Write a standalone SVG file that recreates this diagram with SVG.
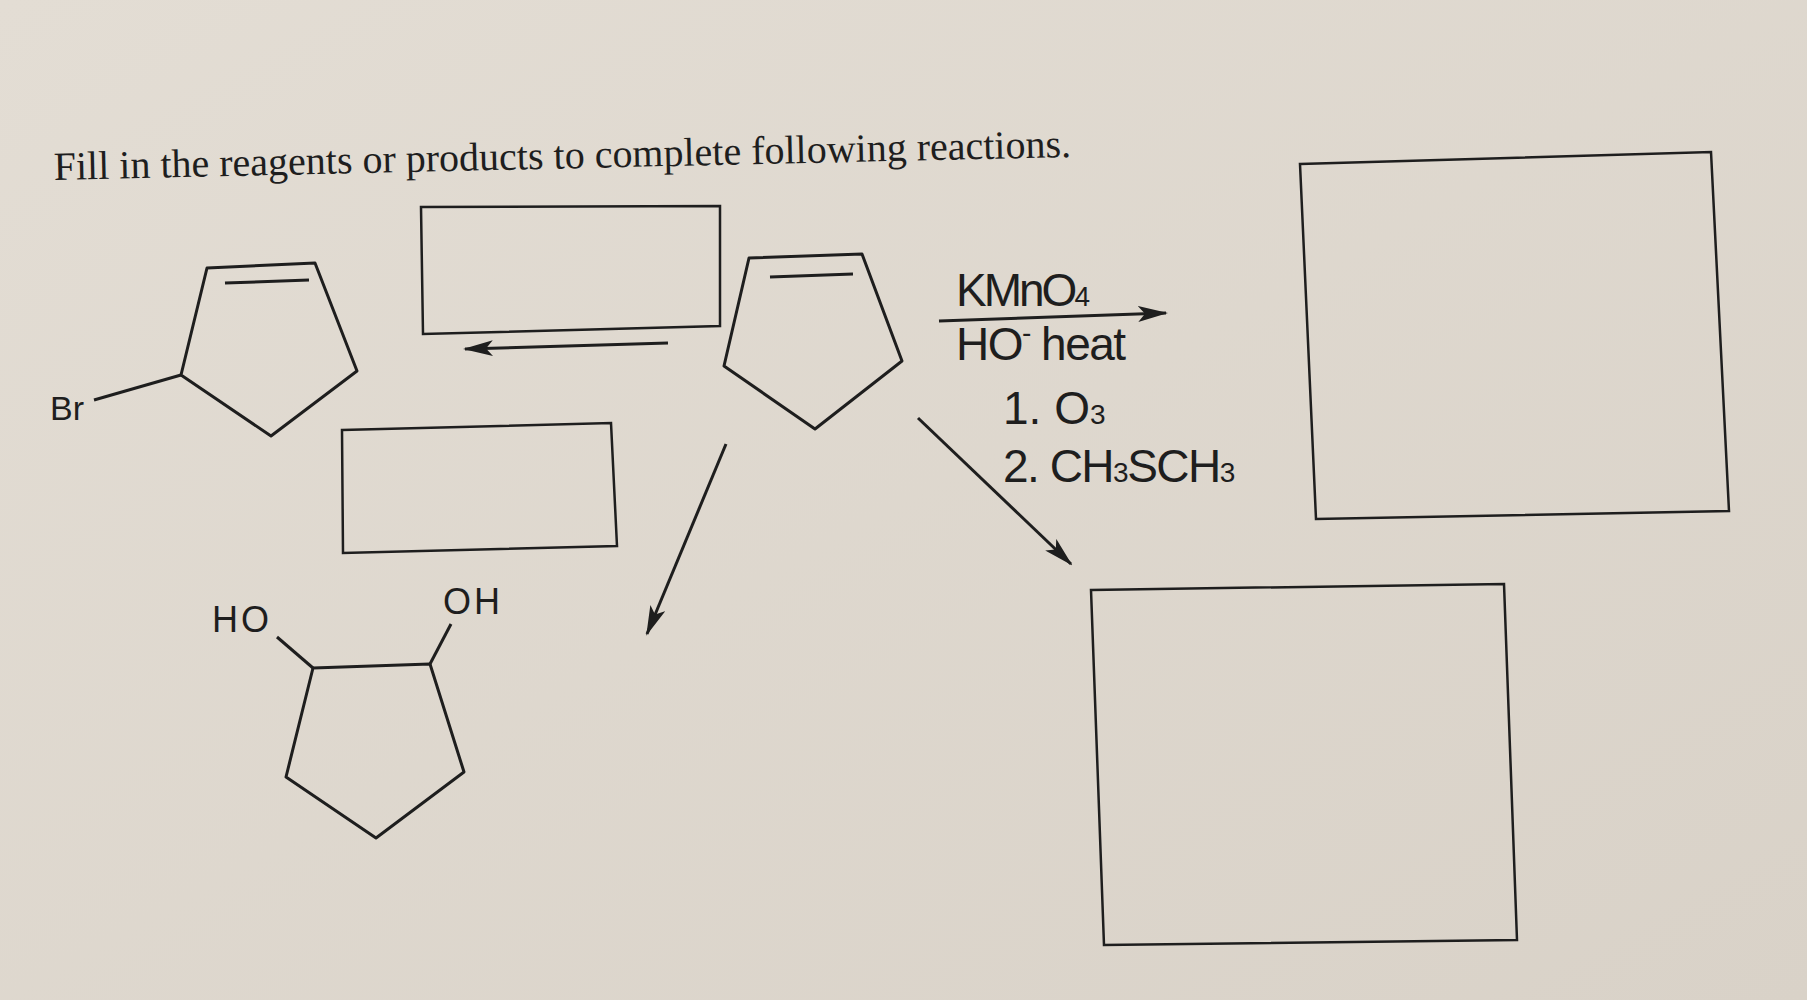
<svg xmlns="http://www.w3.org/2000/svg" width="1807" height="1000" viewBox="0 0 1807 1000">
<defs>
<linearGradient id="bg" x1="0" y1="0" x2="1" y2="1"><stop offset="0" stop-color="#e3ddd4"/><stop offset="1" stop-color="#d9d2c8"/></linearGradient>
<marker id="ah" viewBox="0 0 30 16" refX="28" refY="8" markerWidth="30" markerHeight="16" markerUnits="userSpaceOnUse" orient="auto"><path d="M0,0 L30,8 L0,16 L7,8 Z" fill="#1e1e1e"/></marker>
<style>
.l{stroke:#1e1e1e;stroke-width:3;fill:none;stroke-linejoin:round}
.b{stroke:#1e1e1e;stroke-width:2.5;fill:none}
.t{font-family:"Liberation Sans",Arial,sans-serif;fill:#1e1e1e}
</style>
</defs>
<rect width="1807" height="1000" fill="url(#bg)"/>
<text x="54" y="180" font-family="Liberation Serif,serif" font-size="40" fill="#1e1e1e" transform="rotate(-1.3 54 180)">Fill in the reagents or products to complete following reactions.</text>
<g id="bromocyclopentene">
<polygon class="l" points="207,268 315,263 357,371 271,436 181,375"/>
<line class="l" x1="225" y1="283" x2="309" y2="280"/>
<line class="l" x1="181" y1="375" x2="94" y2="400"/>
<text class="t" x="50" y="420" font-size="34">Br</text>
</g>
<g id="box1"><polygon class="b" points="421,207 720,206 720,326 423,334"/></g>
<g id="box2"><polygon class="b" points="342,430 611,423 617,546 343,553"/></g>
<g id="box3"><polygon class="b" points="1300,164 1711,152 1729,511 1316,519"/></g>
<g id="box4"><polygon class="b" points="1091,590 1504,584 1517,940 1104,945"/></g>
<g id="cyclopentene">
<polygon class="l" points="749,258 862,254 902,361 815,429 724,366"/>
<line class="l" x1="770" y1="277" x2="853" y2="274"/>
</g>
<g id="diol">
<polygon class="l" points="313,668 430,664 464,772 376,838 286,777"/>
<line class="l" x1="313" y1="668" x2="277" y2="637"/>
<line class="l" x1="430" y1="664" x2="451" y2="624"/>
<text class="t" x="212" y="632" font-size="36" letter-spacing="3">HO</text>
<text class="t" x="443" y="614" font-size="36" letter-spacing="3">OH</text>
</g>
<g id="reagents">
<text class="t" x="956" y="306" font-size="46" letter-spacing="-3">KMnO<tspan font-size="28">4</tspan></text>
<text class="t" x="956" y="360" font-size="46" letter-spacing="-1.5">HO<tspan font-size="28" dy="-18">-</tspan><tspan dy="18"> heat</tspan></text>
<text class="t" x="1003" y="424" font-size="46">1. O<tspan font-size="28">3</tspan></text>
<text class="t" x="1003" y="482" font-size="46" letter-spacing="-1.5">2. CH<tspan font-size="28">3</tspan>SCH<tspan font-size="28">3</tspan></text>
</g>
<g id="connectors">
<line class="l" x1="939" y1="321" x2="1166" y2="313" marker-end="url(#ah)"/>
<line class="l" x1="668" y1="343" x2="465" y2="349" marker-end="url(#ah)"/>
<line class="l" x1="918" y1="418" x2="1071" y2="564" marker-end="url(#ah)"/>
<line class="l" x1="726" y1="444" x2="647" y2="634" marker-end="url(#ah)"/>
</g>
</svg>
